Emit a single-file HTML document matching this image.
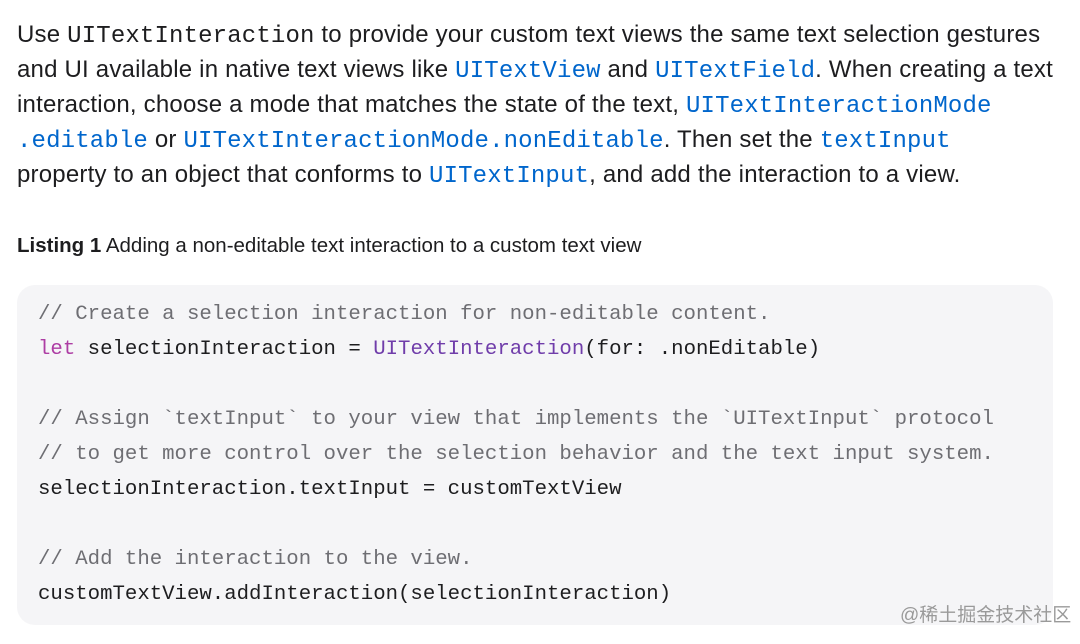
<!DOCTYPE html>
<html><head><meta charset="utf-8"><style>
body{margin:0;width:1080px;height:644px;background:#fff;position:relative;overflow:hidden;font-family:"Liberation Sans",sans-serif;color:#1d1d1f}
.l{position:absolute;left:17px;white-space:nowrap;font-size:24px;line-height:35px;letter-spacing:0.2px}
.m{font-family:"Liberation Mono",monospace;font-size:24px;letter-spacing:0.15px}
.lk{color:#0066cc}
.box{position:absolute;left:17px;top:285px;width:1036px;height:340px;background:#f5f5f7;border-radius:18px}
.c{position:absolute;left:38px;white-space:nowrap;font-family:"Liberation Mono",monospace;font-size:20.7px;line-height:35px;color:#1d1d1f}
.cm{color:#6e6e73}
.kw{color:#ad3da4}
.ty{color:#703daa}
</style></head><body>
<div class="l" style="top:17px">Use <span class="m">UITextInteraction</span> to provide your custom text views the same text selection gestures</div>
<div class="l" style="top:52px">and UI available in native text views like <span class="m lk">UITextView</span> and <span class="m lk">UITextField</span>. When creating a text</div>
<div class="l" style="top:87px">interaction, choose a mode that matches the state of the text, <span class="m lk">UITextInteractionMode</span></div>
<div class="l" style="top:122px"><span class="m lk">.editable</span> or <span class="m lk">UITextInteractionMode.nonEditable</span>. Then set the <span class="m lk">textInput</span></div>
<div class="l" style="top:157px">property to an object that conforms to <span class="m lk">UITextInput</span>, and add the interaction to a view.</div>
<div class="l" style="top:228px;font-size:20.5px;letter-spacing:0"><b>Listing 1</b> Adding a non-editable text interaction to a custom text view</div>
<div class="box"></div>
<div class="c cm" style="top:297px">// Create a selection interaction for non-editable content.</div>
<div class="c" style="top:332px"><span class="kw">let</span> selectionInteraction = <span class="ty">UITextInteraction</span>(for: .nonEditable)</div>
<div class="c cm" style="top:402px">// Assign `textInput` to your view that implements the `UITextInput` protocol</div>
<div class="c cm" style="top:437px">// to get more control over the selection behavior and the text input system.</div>
<div class="c" style="top:472px">selectionInteraction.textInput = customTextView</div>
<div class="c cm" style="top:542px">// Add the interaction to the view.</div>
<div class="c" style="top:577px">customTextView.addInteraction(selectionInteraction)</div>
<div style="position:absolute;left:900px;top:600px;font-family:'Liberation Sans','Noto Sans CJK SC',sans-serif;font-size:19px;color:#9a9a9a;white-space:nowrap">@稀土掘金技术社区</div>
</body></html>
